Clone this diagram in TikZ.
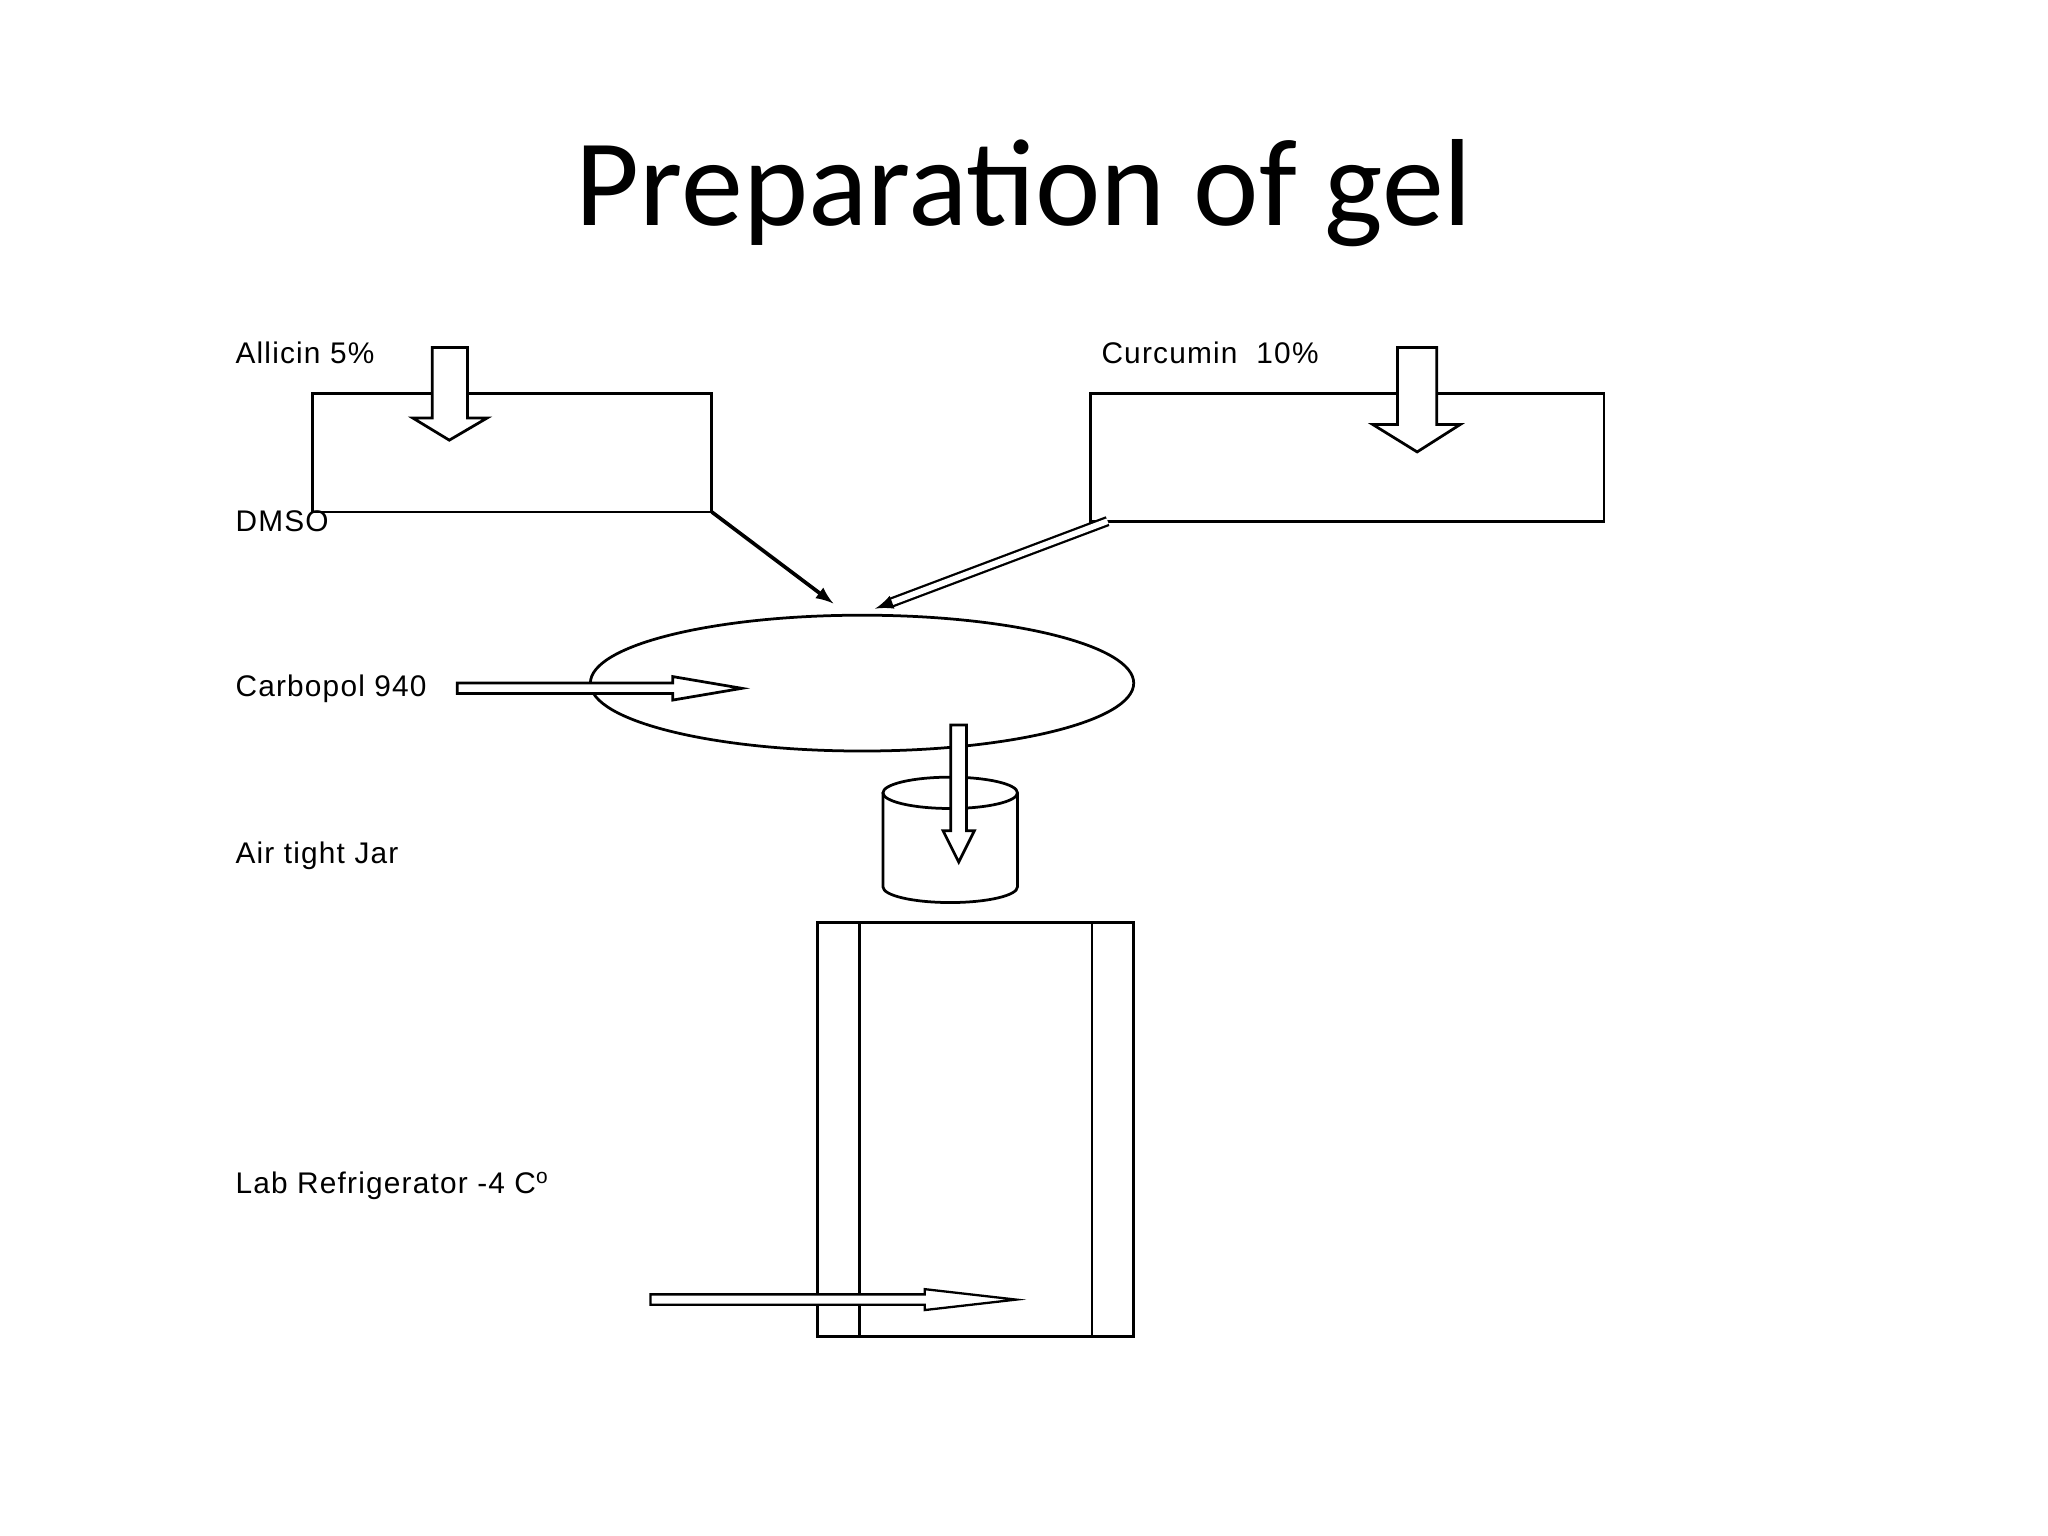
\documentclass[tikz,border=0pt]{standalone}
\usepackage{fontspec}
\setmainfont{Carlito}
\newfontfamily\lblfont[LetterSpace=4]{Liberation Sans}
\begin{document}
\begin{tikzpicture}[x=0.02cm,y=-0.02cm,
  lbl/.style={anchor=west,font=\lblfont\fontsize{13}{15}\selectfont,inner sep=0pt},
  thin line/.style={line width=1.2pt,draw=black}]
\useasboundingbox (0,0) rectangle (1568,1176);
\fill[white] (0,0) rectangle (1568,1176);
\node (title) at (784,148) {\fontsize{54}{60}\selectfont Preparation of gel};
% labels
\node[lbl] (l1) at (180,270) {Allicin 5\%};
\node[lbl] (l2) at (843,270) {Curcumin\ \ 10\%};
\node[lbl] (l3) at (180,399) {DMSO};
\node[lbl] (l4) at (180,527) {Carbopol 940};
\node[lbl] (l5) at (180,655) {Air tight Jar};
\node[lbl] (l6) at (180,908) {Lab Refrigerator -4 C\textsuperscript{o}};
% boxes
\draw[thin line] (239,301) rectangle (545,392);
\draw[thin line] (835,301) rectangle (1228,399);
\coordinate (bl) at (545,392);
\coordinate (br) at (848,399);
% hollow down arrows
\draw[thin line,fill=white] (331,266)--(358,266)--(358,320)--(373,320)--(344,337)--(316,320)--(331,320)--cycle;
\draw[thin line,fill=white] (1070,266)--(1100,266)--(1100,325)--(1118,325)--(1085,346)--(1051,325)--(1070,325)--cycle;
% ellipse
\draw[thin line] (660,523) ellipse [x radius=208,y radius=52];
\coordinate (e1) at (638,462);
\coordinate (e2) at (670,466);
\draw[line width=1.6pt,-{latex}] (bl) -- (e1);
\draw[double,double distance=2.5pt,line width=1pt,-{latex}] (br) -- (e2);
% carbopol arrow
\draw[thin line,fill=white] (350,523)--(515,523)--(515,518)--(568,527)--(515,536)--(515,531)--(350,531)--cycle;
% jar
\draw[thin line,fill=white] (676,607)--(676,679) arc[start angle=180,end angle=0,x radius=51.5,y radius=12] -- (779,607);
\draw[thin line] (727.5,607) ellipse [x radius=51.5,y radius=12];
% down arrow into jar
\draw[thin line,fill=white] (728,555)--(740,555)--(740,636)--(746,636)--(734,660)--(722,636)--(728,636)--cycle;
% refrigerator
\draw[thin line] (626,706) rectangle (868,1023);
\draw[thin line] (658,706)--(658,1023);
\draw[thin line] (836,706)--(836,1023);
% horizontal arrow
\draw[line width=1pt,fill=white] (498,991)--(708,991)--(708,987)--(778,995)--(708,1003)--(708,999)--(498,999)--cycle;
\end{tikzpicture}
\end{document}
